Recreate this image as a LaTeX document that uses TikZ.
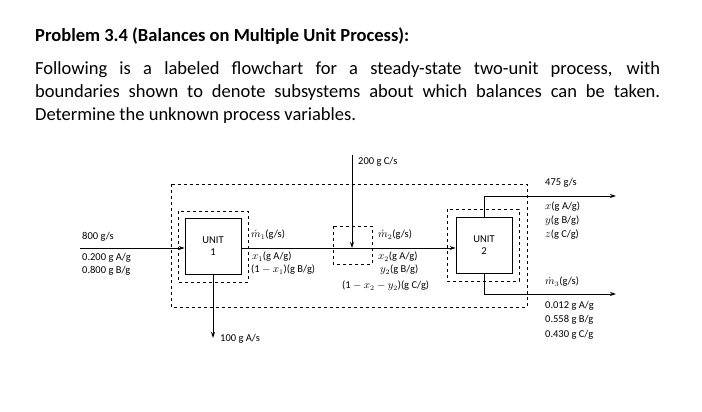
\documentclass[tikz,border=0pt]{standalone}
\usepackage{fontspec}
\setmainfont{Carlito}
\usetikzlibrary{arrows.meta}
\begin{document}
\begin{tikzpicture}[x=1pt,y=-1pt,
  unitbox/.style={draw,line width=0.8pt},
  bnd/.style={draw,dashed,line width=0.6pt},
  flow/.style={line width=1pt,-{Stealth[length=6pt,width=4pt]}},
  lbl/.style={anchor=west,inner sep=0pt,font=\fontsize{10.5}{12}\selectfont}]
\useasboundingbox (0,0) rectangle (702,412);
\node[anchor=west,inner sep=0pt,font=\fontsize{18.5}{20}\selectfont\bfseries] (title) at (35,36) {Problem 3.4 (Balances on Multiple Unit Process):};
\node[anchor=north west,inner sep=0pt,text width=625pt,align=justify,font=\fontsize{18.5}{23}\selectfont] (para) at (35,61) {Following is a labeled flowchart for a steady-state two-unit process, with\linebreak boundaries shown to denote subsystems about which balances can be taken.\linebreak Determine the unknown process variables.};
% boxes
\draw[bnd] (171,184) rectangle (527,307);
\draw[bnd] (178,211) rectangle (248,282);
\draw[bnd] (333,226) rectangle (372,264);
\draw[bnd] (447,209) rectangle (519,281);
\node[unitbox,minimum width=56pt,minimum height=56pt,align=center,font=\fontsize{10.5}{12}\selectfont] (u1) at (213,246) {UNIT\\1};
\node[unitbox,minimum width=56pt,minimum height=56pt,align=center,font=\fontsize{10.5}{12}\selectfont] (u2) at (484,245) {UNIT\\2};
\coordinate (in) at (80,248);
\coordinate (mix) at (352,248);
\coordinate (ctop) at (352,155);
\coordinate (w) at (213,338);
\coordinate (t1) at (484,196);
\coordinate (t2) at (616,196);
\coordinate (b1) at (484,294);
\coordinate (b2) at (616,294);
\draw[flow] (in) -- (u1.west|-in);
\draw[flow] (u1.east|-in) -- (u2.west|-in);
\draw[flow] (ctop) -- (mix);
\draw[flow] (u1.south) -- (w);
\draw[flow] (u2.north) -- (t1) -- (t2);
\draw[flow] (u2.south) -- (b1) -- (b2);
% labels
\node[lbl] (l1) at (82,237) {800 g/s};
\node[lbl] (l2) at (82,258) {0.200 g A/g};
\node[lbl] (l3) at (82,271) {0.800 g B/g};
\node[lbl] (l4) at (220,339) {100 g A/s};
\node[lbl] (l5) at (358,162) {200 g C/s};
\node[lbl] (l6) at (251,235) {$\dot m_1$(g/s)};
\node[lbl] (l7) at (252,257) {$x_1$(g A/g)};
\node[lbl] (l8) at (251,270) {(1 $-$ $x_1$)(g B/g)};
\node[lbl] (l9) at (378,235) {$\dot m_2$(g/s)};
\node[lbl] (l10) at (378,257) {$x_2$(g A/g)};
\node[lbl] (l11) at (380,270) {$y_2$(g B/g)};
\node[lbl] (l12) at (342,286) {(1 $-$ $x_2$ $-$ $y_2$)(g C/g)};
\node[lbl] (l13) at (545,183) {475 g/s};
\node[lbl] (l14) at (545,207) {$x$(g A/g)};
\node[lbl] (l15) at (545,221) {$y$(g B/g)};
\node[lbl] (l16) at (545,235) {$z$(g C/g)};
\node[lbl] (l17) at (545,282) {$\dot m_3$(g/s)};
\node[lbl] (l18) at (545,306) {0.012 g A/g};
\node[lbl] (l19) at (545,320) {0.558 g B/g};
\node[lbl] (l20) at (545,335) {0.430 g C/g};
\end{tikzpicture}
\end{document}
